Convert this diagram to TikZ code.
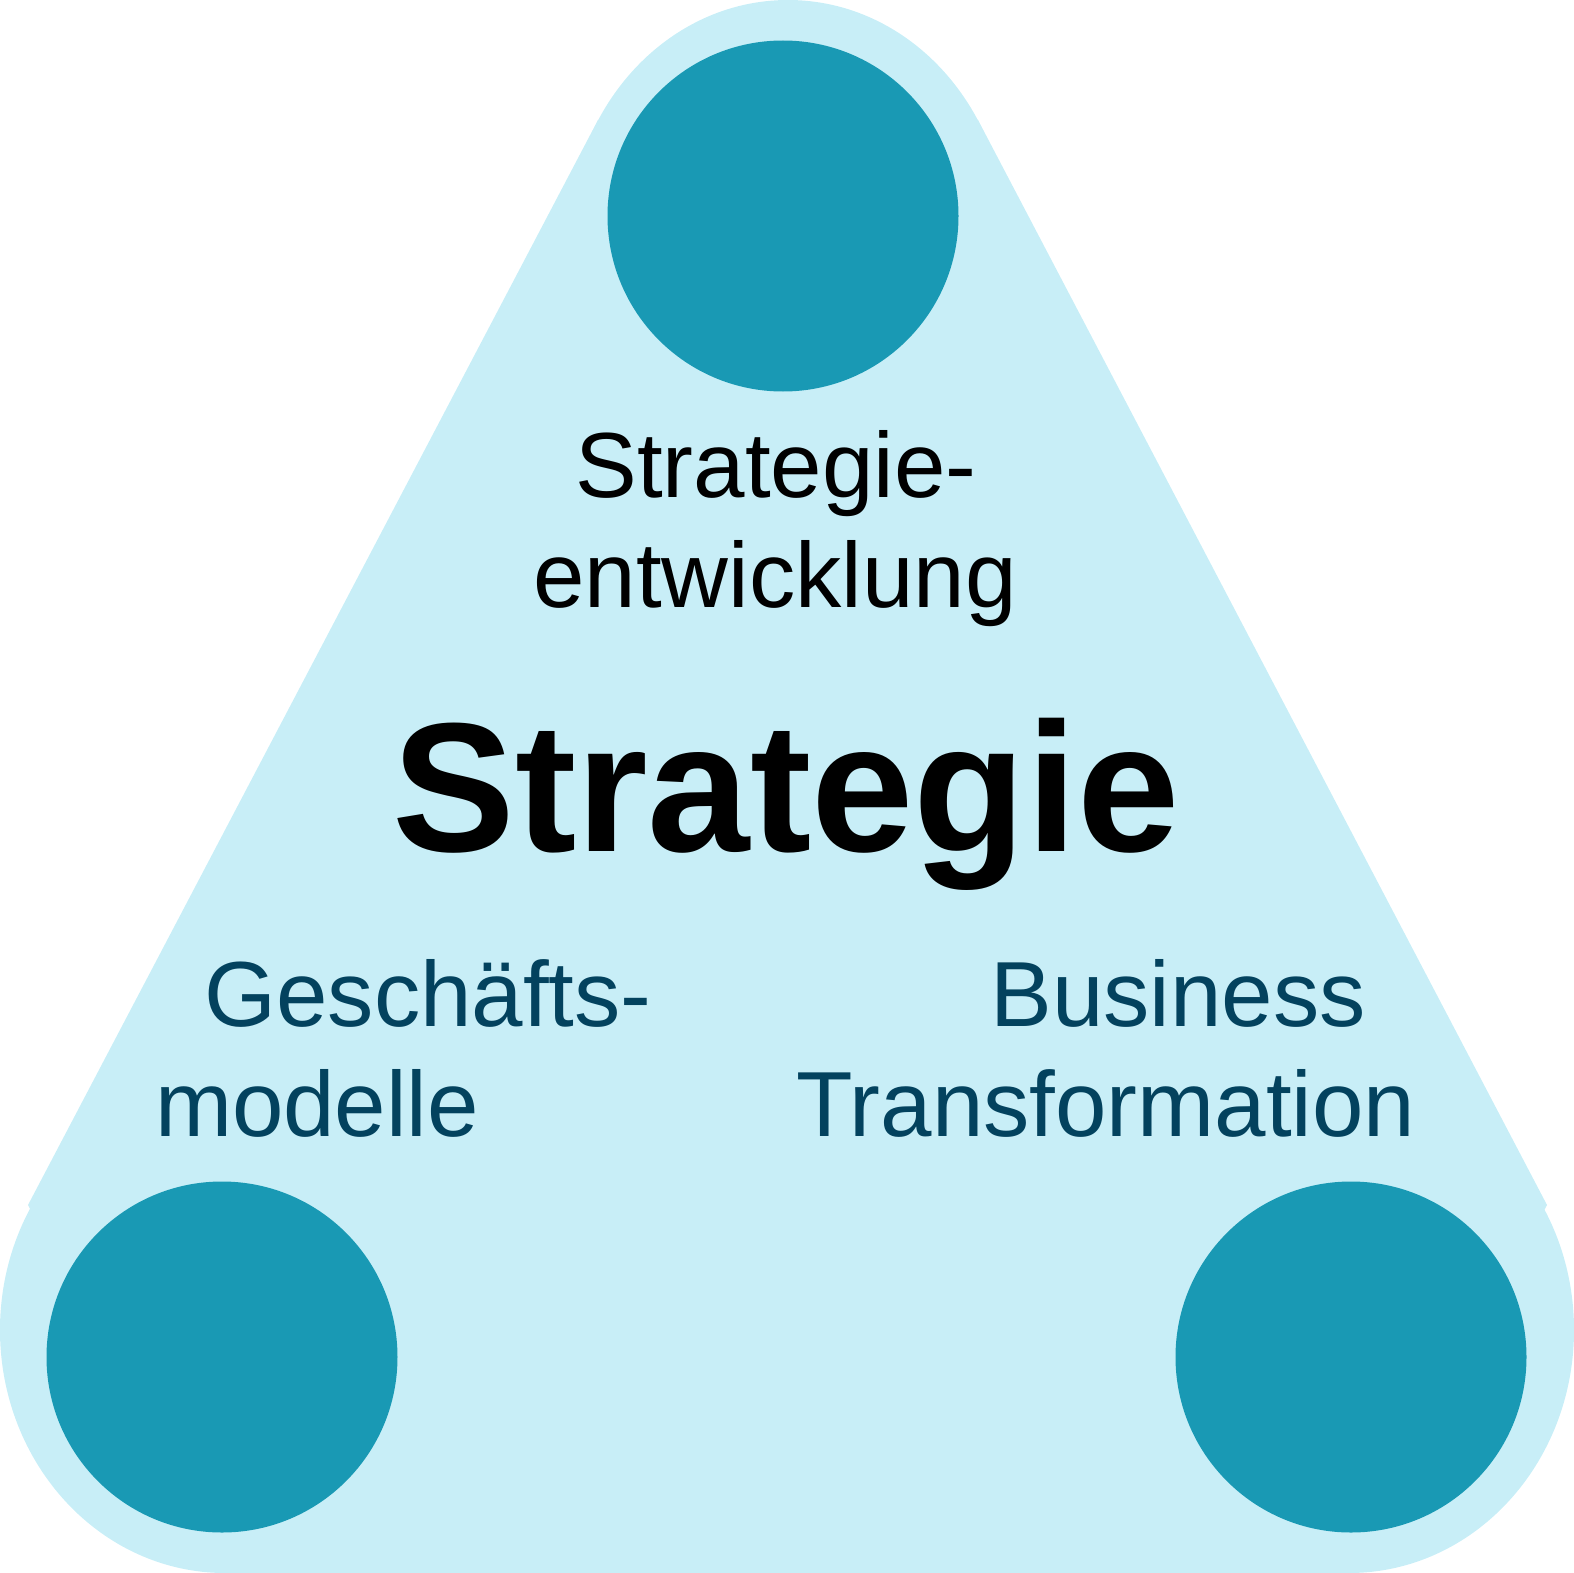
\documentclass[tikz,border=0pt]{standalone}
\usepackage{fontspec}
\setmainfont{Liberation Sans}
\definecolor{lightblue}{HTML}{C8EEF7}
\definecolor{tealdot}{HTML}{1999B4}
\definecolor{navytext}{HTML}{03425E}
\begin{document}
\begin{tikzpicture}[x=1pt,y=-1pt,
		dot/.style={circle,fill=tealdot,minimum size=351pt,inner sep=0pt},
		lbl/.style={anchor=base,inner sep=0pt,font=\fontsize{92.5}{110}\selectfont},
		blue lbl/.style={lbl,text=navytext}]
		\useasboundingbox (0,0) rectangle (1574,1573);
		\fill[lightblue] (598,120) -- (978,120) -- (1547,1205) -- (1349,1573) -- (225,1573) -- (28,1205) -- cycle;
		\fill[lightblue] (788,243) ellipse [x radius=220pt,y radius=243pt];
		\fill[lightblue] (225,1330) ellipse [x radius=225pt,y radius=243pt];
		\fill[lightblue] (1349,1330) ellipse [x radius=225pt,y radius=243pt];
		\node[dot] (cTop) at (783,216) {};
		\node[dot] (cLeft) at (222,1357) {};
		\node[dot] (cRight) at (1351,1357) {};
		\node[lbl] (strat1) at (776,497) {Strategie-};
		\node[lbl] (strat2) at (775,607) {entwicklung};
		\node[lbl,font=\fontsize{184}{220}\selectfont\bfseries] (title) at (786,851) {Strategie};
		\node[blue lbl] (gesch1) at (428,1026) {Geschäfts-};
		\node[blue lbl] (gesch2) at (317,1136) {modelle};
		\node[blue lbl] (trans1) at (1178,1026) {Business};
		\node[blue lbl] (trans2) at (1106,1136) {Transformation};
\end{tikzpicture}
\end{document}
